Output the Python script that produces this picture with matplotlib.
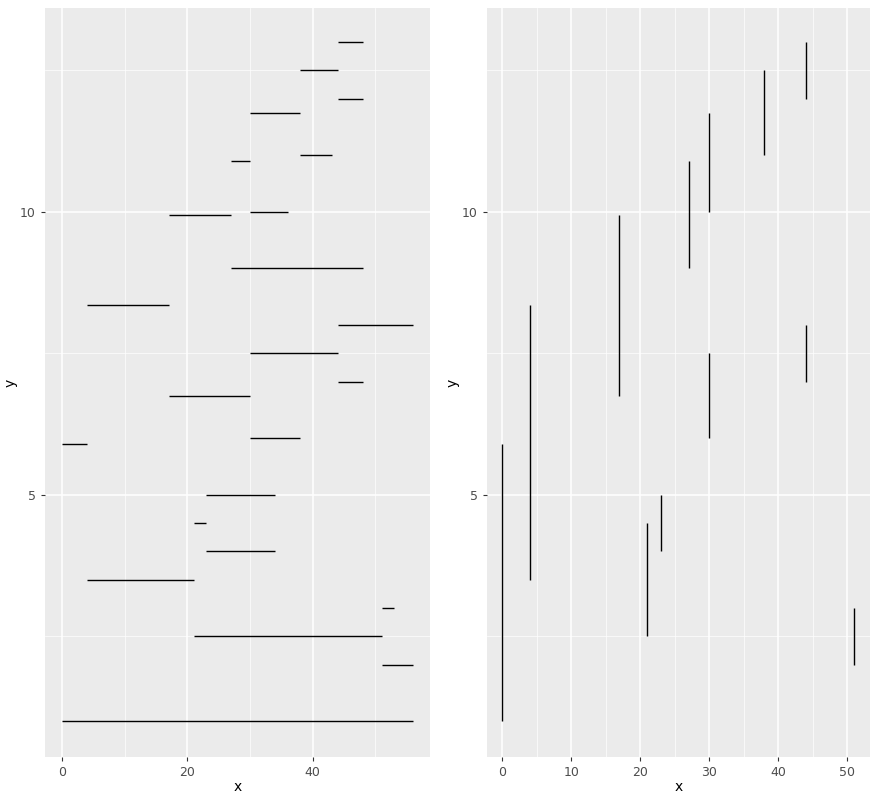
import matplotlib
matplotlib.use("Agg")
import matplotlib.pyplot as plt

# left panel: horizontal segments (y, xmin, xmax)
h_y    = [13, 12.5, 12, 11.75, 11, 10.9, 10, 9.95, 9, 8.35, 8, 7.5, 7, 6.75, 6, 5.9, 5, 4.5, 4, 3.5, 3, 2.5, 2, 1]
h_xmin = [44, 38, 44, 30, 38, 27, 30, 17, 27, 4, 44, 30, 44, 17, 30, 0, 23, 21, 23, 4, 51, 21, 51, 0]
h_xmax = [48, 44, 48, 38, 43, 30, 36, 27, 48, 17, 56, 44, 48, 30, 38, 4, 34, 23, 34, 21, 53, 51, 56, 56]
# right panel: vertical segments (x, ymin, ymax)
v_x    = [0, 4, 17, 21, 23, 27, 30, 30, 38, 44, 44, 51]
v_ymin = [1, 3.5, 6.75, 2.5, 4, 9, 10, 6, 11, 12, 7, 2]
v_ymax = [5.9, 8.35, 9.95, 4.5, 5, 10.9, 11.75, 7.5, 12.5, 13, 8, 3]

W, H = 885, 797
fig = plt.figure(figsize=(W/100, H/100), dpi=100)
axL = fig.add_axes([45/W, 1-757/H, 385/W, 749/H])
axR = fig.add_axes([487/W, 1-757/H, 383/W, 749/H])

def style(ax):
    ax.set_facecolor("#EBEBEB")
    for s in ax.spines.values():
        s.set_visible(False)
    ax.grid(True, which="major", color="white", lw=1.1)
    ax.grid(True, which="minor", color="white", lw=0.5)
    ax.set_axisbelow(True)
    ax.tick_params(which="major", colors="#333333", labelcolor="#4D4D4D", labelsize=9, length=3)
    ax.tick_params(which="minor", length=0)
    ax.set_xlabel("x", fontsize=10, labelpad=1)
    ax.set_ylabel("y", fontsize=10, labelpad=2)
    ax.set_ylim(0.37, 13.6)
    ax.set_yticks([5, 10])
    ax.set_yticks([2.5, 7.5, 12.5], minor=True)

axL.hlines(h_y, h_xmin, h_xmax, color="black", lw=1)
style(axL)
axL.set_xlim(-2.7, 58.7)
axL.set_xticks([0, 20, 40])
axL.set_xticks([10, 30, 50], minor=True)

axR.vlines(v_x, v_ymin, v_ymax, color="black", lw=1)
style(axR)
axR.set_xlim(-2.2, 53.3)
axR.set_xticks([0, 10, 20, 30, 40, 50])
axR.set_xticks([5, 15, 25, 35, 45], minor=True)

fig.savefig("out.png", dpi=100)
